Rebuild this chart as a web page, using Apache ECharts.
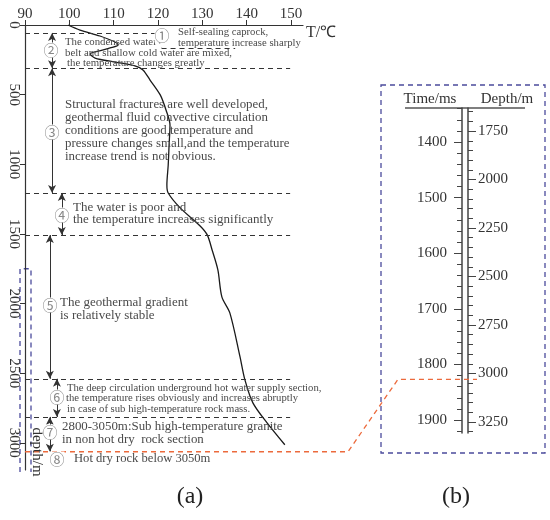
<!DOCTYPE html>
<html>
<head>
<meta charset="utf-8">
<script src="https://cdn.jsdelivr.net/npm/echarts@6/dist/echarts.min.js"></script>
<style>
html, body { margin: 0; padding: 0; background: #fff; }
#chart { width: 550px; height: 520px; }
</style>
</head>
<body>
<div id="chart"></div>
<script>
// (a) temperature profile: T in °C against depth in m
var tempC = [99.7, 102.4, 106.9, 110.3, 111.0, 109.2, 106.5, 104.7, 105.8, 110.3, 114.8, 116.6, 118.2, 120.5,
  121.8, 122.7, 122.5, 122.3, 122.0, 122.3, 125.0, 129.5, 131.1, 132.2, 133.5, 134.4, 136.2, 138.5, 139.6,
  141.4, 144.6, 148.6];
var depthM = [0, 36, 79, 122, 144, 165, 187, 208, 237, 266, 294, 323, 395, 502, 610, 718, 861, 1005, 1148,
  1206, 1313, 1443, 1507, 1615, 1758, 1952, 2067, 2383, 2548, 2713, 2857, 3014];

var tempTicks = [90, 100, 110, 120, 130, 140, 150];
var depthTicks = [0, 500, 1000, 1500, 2000, 2500, 3000];

// zone boundaries (m)
var caprockDepth = 57;
var zoneDepths = [310, 1206, 1508, 2540, 2814];
var hotDryDepth = 3064;
// vertical arrows: [T position, top depth, bottom depth]
var zoneArrows = [[96.1, 57, 310], [96.1, 310, 1206], [98.3, 1206, 1508], [95.6, 1508, 2540],
  [97.2, 2540, 2814], [95.6, 2814, 3064]];

// (b) time-depth scale
var timeTicks = [1400, 1500, 1600, 1700, 1800, 1900];
var scaleDepthTicks = [1750, 2000, 2250, 2500, 2750, 3000, 3250];
var hotDryDepthB = 3030;

var timeMinor = [];
for (var t = 1340; t <= 1920; t += 20) timeMinor.push(t);
var depthMinor = [];
for (var d = 1650; d <= 3300; d += 50) depthMinor.push(d);

var serif = 'Liberation Serif';
var lineCol = '#333';
var textCol = '#4a4a4a';
var plain = function (v) { return String(v); };

var chart = echarts.init(document.getElementById('chart'));

var dashed = { color: lineCol, type: [5, 4], width: 1 };
var markData = [];
markData.push([{ coord: [90, caprockDepth] }, { coord: [119.8, caprockDepth] }]);
markData.push([{ coord: [119.9, 100] }, { coord: [120.8, 160] }]);
markData.push([{ coord: [120.8, 165] }, { coord: [137.4, 165] }]);
zoneDepths.forEach(function (z) {
  markData.push([{ coord: [90, z] }, { coord: [149.8, z] }]);
});
zoneArrows.forEach(function (a) {
  markData.push([
    { coord: [a[0], a[1]], symbol: 'arrow', lineStyle: { color: lineCol, type: 'solid', width: 1 } },
    { coord: [a[0], a[2]], symbol: 'arrow' }
  ]);
});

var option = {
  animation: false,
  grid: [
    { left: 25, top: 25, width: 278, height: 445 },
    { left: 462, top: 108, width: 6, height: 325 }
  ],
  xAxis: [
    {
      gridIndex: 0, type: 'value', position: 'top', min: 90, max: 152.7,
      axisLine: { lineStyle: { color: lineCol, width: 1.2 } },
      axisTick: { customValues: tempTicks, length: 5, lineStyle: { color: lineCol } },
      axisLabel: { customValues: tempTicks, formatter: plain, color: lineCol, fontFamily: serif, fontSize: 15, margin: 3 },
      splitLine: { show: false }
    },
    { gridIndex: 1, type: 'value', show: false, min: 0, max: 1 }
  ],
  yAxis: [
    {
      gridIndex: 0, type: 'value', inverse: true, min: 0, max: 3195,
      axisLine: { show: true, lineStyle: { color: lineCol, width: 1.2 } },
      axisTick: { show: true, customValues: depthTicks, length: 5, lineStyle: { color: lineCol } },
      axisLabel: { customValues: depthTicks, formatter: plain, rotate: -90, color: lineCol, fontFamily: serif, fontSize: 15, margin: 4 },
      splitLine: { show: false }
    },
    {
      gridIndex: 1, type: 'value', position: 'left', inverse: true, min: 1338.8, max: 1923.4,
      axisLine: { show: true, lineStyle: { color: '#444', width: 1.5 } },
      axisTick: { show: true, customValues: timeTicks, length: 8, lineStyle: { color: '#444' } },
      axisLabel: { customValues: timeTicks, formatter: plain, color: lineCol, fontFamily: serif, fontSize: 15, margin: 15 },
      splitLine: { show: false }
    },
    {
      gridIndex: 1, type: 'value', position: 'right', inverse: true, min: 1631, max: 3307,
      axisLine: { show: true, lineStyle: { color: '#444', width: 1.5 } },
      axisTick: { show: true, customValues: scaleDepthTicks, length: 8, lineStyle: { color: '#444' } },
      axisLabel: { customValues: scaleDepthTicks, formatter: plain, color: lineCol, fontFamily: serif, fontSize: 15, margin: 10 },
      splitLine: { show: false }
    },
    {
      gridIndex: 1, type: 'value', position: 'left', inverse: true, min: 1338.8, max: 1923.4,
      axisLine: { show: false },
      axisTick: { show: true, customValues: timeMinor, length: 5, lineStyle: { color: '#444' } },
      axisLabel: { show: false },
      splitLine: { show: false }
    },
    {
      gridIndex: 1, type: 'value', position: 'right', inverse: true, min: 1631, max: 3307,
      axisLine: { show: false },
      axisTick: { show: true, customValues: depthMinor, length: 5, lineStyle: { color: '#444' } },
      axisLabel: { show: false },
      splitLine: { show: false }
    }
  ],
  series: [
    {
      name: 'temperature', type: 'line', xAxisIndex: 0, yAxisIndex: 0,
      data: tempC.map(function (v, i) { return [v, depthM[i]]; }),
      symbol: 'none', smooth: 0.3, z: 3,
      lineStyle: { color: '#1a1a1a', width: 1.3 },
      markLine: {
        silent: true, symbol: ['none', 'none'], symbolSize: [6, 8],
        label: { show: false }, lineStyle: dashed,
        emphasis: { disabled: true },
        data: markData
      }
    }
  ]
};
chart.setOption(option);

// overlays placed from the axes
var hotY = chart.convertToPixel({ gridIndex: 0 }, [90, hotDryDepth])[1];
var boxTop = chart.convertToPixel({ gridIndex: 0 }, [90, 1750])[1];
var bY = chart.convertToPixel({ yAxisIndex: 2 }, hotDryDepthB);

function txt(x, y, s, size, extra) {
  var st = { text: s, font: size + 'px "' + serif + '"', fill: textCol, verticalAlign: 'middle' };
  if (extra) for (var k in extra) st[k] = extra[k];
  return { type: 'text', x: x, y: y, z: 10, style: st };
}
function circ(x, y, s) {
  return {
    type: 'text', x: x, y: y, z: 20,
    style: { text: s, font: '15px "Noto Sans CJK SC"', fill: '#888', align: 'center', verticalAlign: 'middle', backgroundColor: '#fff' }
  };
}

var g = [];
g.push(txt(306, 33, 'T/℃', 16, { fill: lineCol }));
g.push(txt(178, 32, 'Self-sealing caprock,', 10.7));
g.push(txt(178, 43, 'temperature increase sharply', 10.7));
g.push(txt(65, 42, 'The condensed water', 10.8));
g.push(txt(65, 53, 'belt and shallow cold water are mixed,', 10.8));
g.push(txt(67, 63, 'the temperature changes greatly', 10.8));
['Structural fractures are well developed,', 'geothermal fluid convective circulation',
  'conditions are good,temperature and', 'pressure changes small,and the temperature',
  'increase trend is not obvious.'].forEach(function (s, i) {
  g.push(txt(65, 105 + i * 13, s, 12.9));
});
g.push(txt(73, 208, 'The water is poor and', 13));
g.push(txt(73, 220, 'the temperature increases significantly', 13));
g.push(txt(60, 303, 'The geothermal gradient', 13));
g.push(txt(60, 316, 'is relatively stable', 13));
g.push(txt(67, 388, 'The deep circulation underground hot water supply section,', 10.7));
g.push(txt(66, 398.5, 'the temperature rises obviously and increases abruptly', 10.7));
g.push(txt(67, 409, 'in case of sub high-temperature rock mass.', 10.7));
g.push(txt(62, 427, '2800-3050m:Sub high-temperature granite', 12.9));
g.push(txt(62, 440, 'in non hot dry  rock section', 12.9));
g.push(txt(74, 459, 'Hot dry rock below 3050m', 12.6));
g.push({
  type: 'text', x: 37, y: 452, rotation: -Math.PI / 2, z: 10,
  style: { text: 'depth/m', font: '15px "' + serif + '"', fill: lineCol, align: 'center', verticalAlign: 'middle' }
});

g.push(circ(162, 35, '①'));
g.push(circ(51, 50, '②'));
g.push(circ(52, 132, '③'));
g.push(circ(62, 215, '④'));
g.push(circ(50, 305, '⑤'));
g.push(circ(57, 397, '⑥'));
g.push(circ(50, 432, '⑦'));
g.push(circ(57, 459, '⑧'));

// (b) headers and frame
g.push(txt(430, 99, 'Time/ms', 15, { fill: lineCol, align: 'center' }));
g.push(txt(507, 99, 'Depth/m', 15, { fill: lineCol, align: 'center' }));
g.push({ type: 'line', shape: { x1: 405, y1: 108, x2: 525, y2: 108 }, style: { stroke: '#555', lineWidth: 1.5 } });

var blue = { stroke: '#4b4b9c', lineDash: [5, 4], lineWidth: 1.3, fill: null };
g.push({ type: 'rect', shape: { x: 381, y: 85, width: 164, height: 368 }, style: blue });
g.push({ type: 'polyline', shape: { points: [[20, 472], [20, boxTop], [31, boxTop], [31, 472]] }, style: blue });

g.push({
  type: 'polyline', z: 5,
  shape: { points: [[25, hotY], [348, hotY], [398, bY], [477, bY]] },
  style: { stroke: '#ec6a3c', lineDash: [5, 4], lineWidth: 1.3, fill: null }
});

g.push(txt(190, 497, '(a)', 24, { fill: '#222', align: 'center' }));
g.push(txt(456, 497, '(b)', 24, { fill: '#222', align: 'center' }));

chart.setOption({ graphic: g });
window.onresize = function () { chart.resize(); };
</script>
</body>
</html>
